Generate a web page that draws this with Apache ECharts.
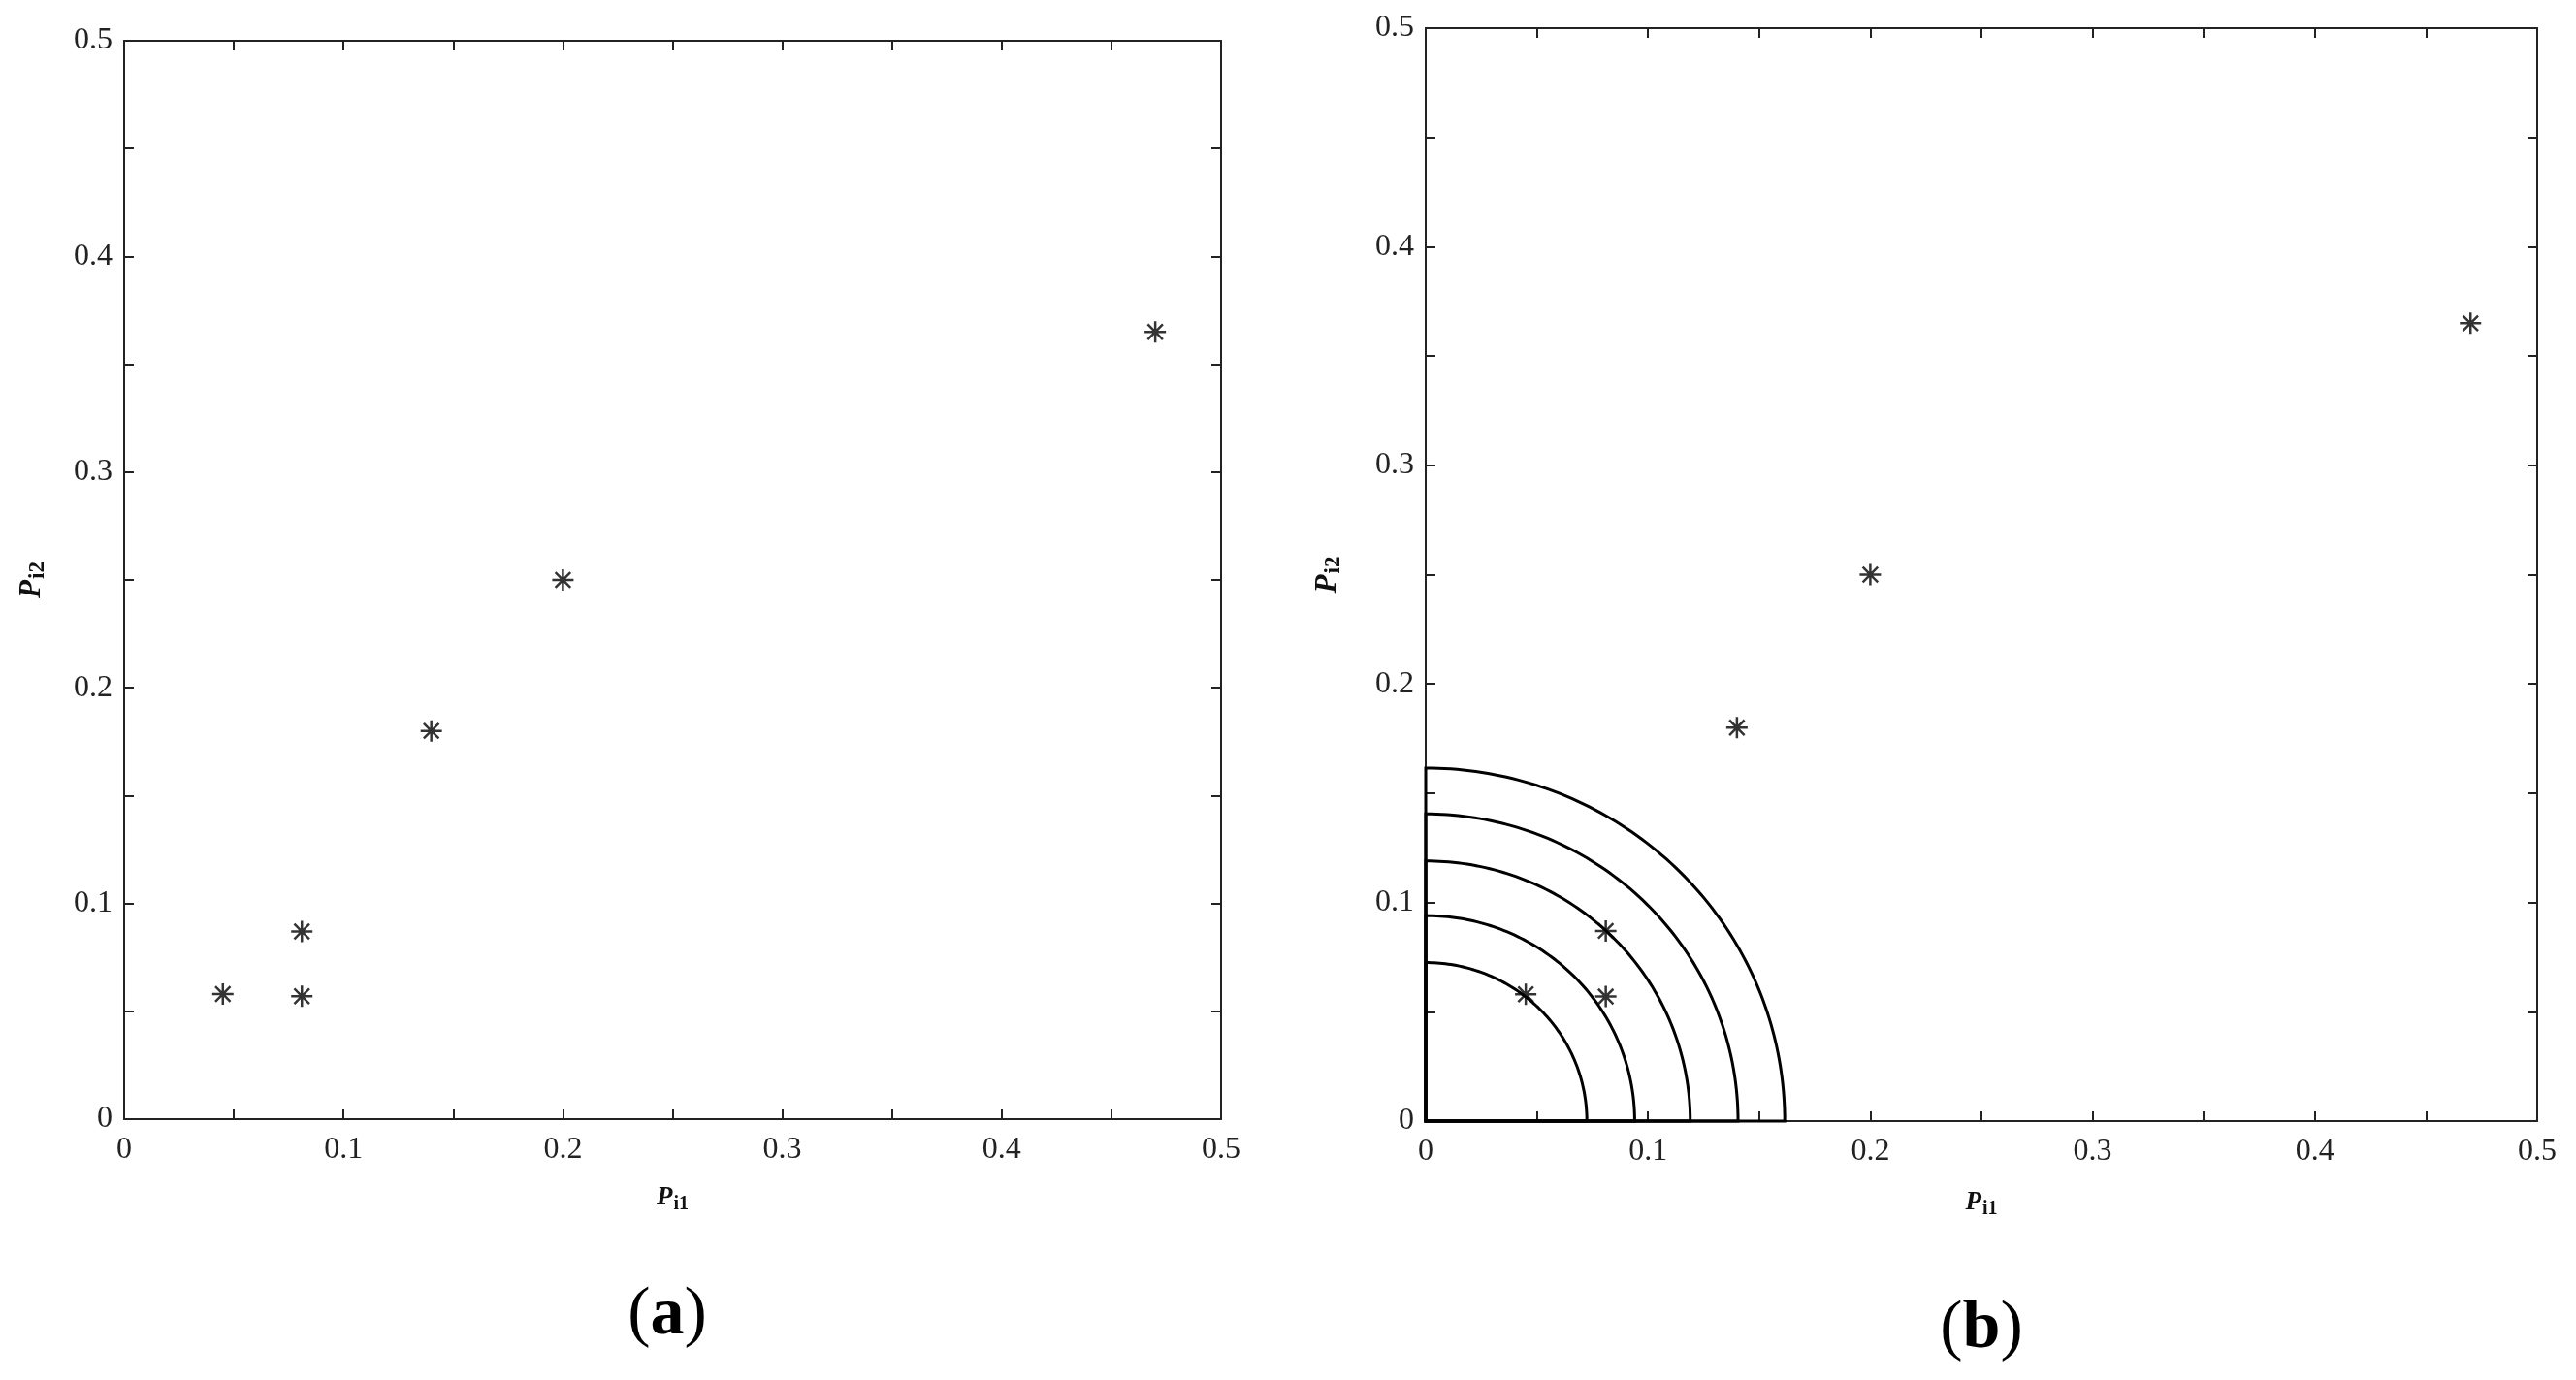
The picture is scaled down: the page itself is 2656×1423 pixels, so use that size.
<!DOCTYPE html>
<html>
<head>
<meta charset="utf-8">
<script src="https://cdn.jsdelivr.net/npm/echarts@6/dist/echarts.min.js"></script>
<style>
html,body{margin:0;padding:0;background:#fff;}
#chart{width:2656px;height:1423px;}
</style>
</head>
<body>
<div id="chart"></div>
<script>
// ---- data ----
const pointsA = [[0.045,0.058],[0.081,0.057],[0.081,0.087],[0.14,0.18],[0.2,0.25],[0.47,0.365]];
const pointsB = [[0.045,0.058],[0.081,0.057],[0.081,0.087],[0.14,0.18],[0.2,0.25],[0.47,0.365]];
const arcRadii = [0.0725, 0.094, 0.119, 0.1405, 0.1615];
const axisTicks = [0, 0.1, 0.2, 0.3, 0.4, 0.5];
const captions = ['a', 'b'];
const xTitle = ['P', 'i1'];
const yTitle = ['P', 'i2'];

const FONT = 'Liberation Serif';
const AX = '#222';

function labelFmt(v){
  for (const t of axisTicks){ if (Math.abs(v - t) < 1e-9) return String(t); }
  return '';
}
const xNameRich = {
  p:{fontFamily:FONT,fontStyle:'italic',fontWeight:'bold',fontSize:27,color:'#111',padding:[0,1,13,0]},
  s:{fontFamily:FONT,fontWeight:'bold',fontSize:20,color:'#111'}
};
const yNameRich = {
  p:{fontFamily:FONT,fontStyle:'italic',fontWeight:'bold',fontSize:31,color:'#111',padding:[0,1,14,0]},
  s:{fontFamily:FONT,fontWeight:'bold',fontSize:23,color:'#111'}
};
function xAxes(grid, gap){
  const base = {gridIndex:grid,type:'value',min:0,max:0.5,interval:0.05,splitLine:{show:false},
    axisLine:{show:true,onZero:false,lineStyle:{color:AX,width:2}},
    axisTick:{show:true,inside:true,length:10,lineStyle:{color:AX,width:2}}};
  return [
    Object.assign({},base,{position:'bottom',
      axisLabel:{show:true,formatter:labelFmt,fontFamily:FONT,fontSize:32,color:'#222',margin:16,showMinLabel:true,showMaxLabel:true},
      name:'{p|'+xTitle[0]+'}{s|'+xTitle[1]+'}',nameLocation:'middle',nameGap:gap,nameTextStyle:{rich:xNameRich}}),
    Object.assign({},base,{position:'top',axisLabel:{show:false}})
  ];
}
function yAxes(grid, gap){
  const base = {gridIndex:grid,type:'value',min:0,max:0.5,interval:0.05,splitLine:{show:false},
    axisLine:{show:true,onZero:false,lineStyle:{color:AX,width:2}},
    axisTick:{show:true,inside:true,length:10,lineStyle:{color:AX,width:2}}};
  return [
    Object.assign({},base,{position:'left',
      axisLabel:{show:true,formatter:labelFmt,fontFamily:FONT,fontSize:32,color:'#222',margin:12,showMinLabel:true,showMaxLabel:true},
      name:'{p|'+yTitle[0]+'}{s|'+yTitle[1]+'}',nameLocation:'middle',nameGap:gap,nameRotate:90,nameTextStyle:{rich:yNameRich}}),
    Object.assign({},base,{position:'right',axisLabel:{show:false}})
  ];
}

const asterisk = 'path://M0,10L20,10M10,0L10,20M2.93,2.93L17.07,17.07M17.07,2.93L2.93,17.07';
const scatterStyle = {symbol:asterisk,symbolSize:22,itemStyle:{color:'none',borderColor:'#000',borderWidth:2.5},silent:true};

const chart = echarts.init(document.getElementById('chart'),null,{renderer:'canvas'});
const capRich = {
  p:{fontFamily:FONT,fontSize:70,color:'#000'},
  b:{fontFamily:FONT,fontSize:70,fontWeight:'bold',color:'#000'}
};
chart.setOption({
  backgroundColor:'#fff',
  animation:false,
  grid:[
    {left:128,top:42,width:1131,height:1112},
    {left:1470,top:29,width:1146,height:1127}
  ],
  xAxis:[...xAxes(0,68),...xAxes(1,71)],
  yAxis:[...yAxes(0,66),...yAxes(1,72)],
  graphic:[
    {type:'text',x:688,y:1357,style:{text:'{p|(}{b|'+captions[0]+'}{p|)}',rich:capRich,align:'center',verticalAlign:'middle'}},
    {type:'text',x:2043,y:1371,style:{text:'{p|(}{b|'+captions[1]+'}{p|)}',rich:capRich,align:'center',verticalAlign:'middle'}}
  ],
  series:[
    Object.assign({type:'scatter',xAxisIndex:0,yAxisIndex:0,data:pointsA},scatterStyle),
    Object.assign({type:'scatter',xAxisIndex:2,yAxisIndex:2,data:pointsB},scatterStyle),
    {
      type:'custom',xAxisIndex:2,yAxisIndex:2,silent:true,clip:false,
      data:arcRadii.map(r=>[r]),
      encode:{x:0,y:0},
      renderItem:function(params,api){
        const r = api.value(0);
        const pts = [api.coord([0,0])];
        for (let i=0;i<=90;i++){
          const t = i*Math.PI/180;
          pts.push(api.coord([r*Math.cos(t), r*Math.sin(t)]));
        }
        return {type:'polygon',shape:{points:pts},style:{fill:'none',stroke:'#000',lineWidth:3}};
      }
    }
  ]
});
</script>
</body>
</html>
